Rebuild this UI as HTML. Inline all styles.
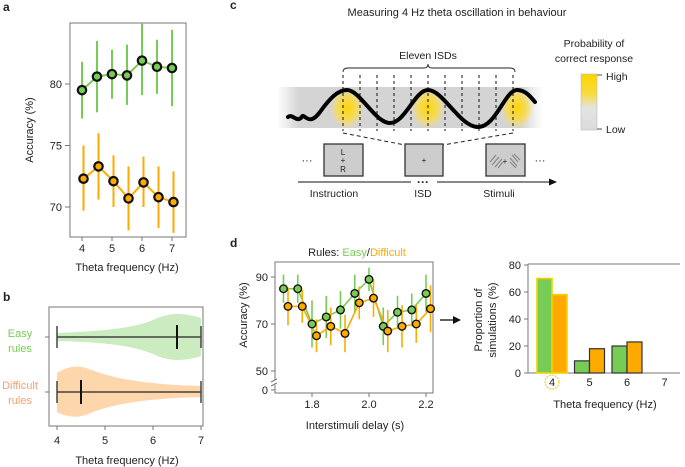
<!DOCTYPE html>
<html><head><meta charset="utf-8"><style>
body{margin:0;background:#fff;}
svg{display:block;font-family:"Liberation Sans",sans-serif;}
text{fill:#222;}
</style></head><body>
<svg id="fig" width="685" height="467" viewBox="0 0 685 467">
<defs>
<linearGradient id="cbar" x1="0" y1="0" x2="0" y2="1">
<stop offset="0" stop-color="#ffd400"/><stop offset="0.35" stop-color="#f7dc3a"/><stop offset="0.6" stop-color="#e3e3e0"/><stop offset="1" stop-color="#dcdcdc"/></linearGradient>
<linearGradient id="band" x1="0" y1="0" x2="1" y2="0">
<stop offset="0" stop-color="#d8d8d8" stop-opacity="0"/><stop offset="0.08" stop-color="#d4d4d4"/><stop offset="0.92" stop-color="#d4d4d4"/><stop offset="1" stop-color="#d8d8d8" stop-opacity="0"/></linearGradient>
<radialGradient id="glow" cx="0.5" cy="0.5" r="0.5"><stop offset="0" stop-color="#ffd400"/><stop offset="0.6" stop-color="#ffdd33" stop-opacity="0.7"/><stop offset="1" stop-color="#ffe066" stop-opacity="0"/></radialGradient>
</defs>
<text x="3" y="11" font-weight="bold" font-size="12">a</text>
<text x="3" y="301" font-weight="bold" font-size="12">b</text>
<text x="230" y="9" font-weight="bold" font-size="12">c</text>
<text x="230" y="247" font-weight="bold" font-size="12">d</text>

<g id="pa"></g>
<g id="pb"></g>

<g>
<text x="457" y="16" font-size="11" text-anchor="middle">Measuring 4 Hz theta oscillation in behaviour</text>
<rect x="277" y="87" width="266" height="41" fill="url(#band)"/>
<ellipse cx="347" cy="108" rx="17" ry="21" fill="url(#glow)"/>
<ellipse cx="428" cy="108" rx="17" ry="21" fill="url(#glow)"/>
<ellipse cx="517" cy="108" rx="17" ry="21" fill="url(#glow)"/>
<path d="M288,117 C292,114 295,120 299,119 C303,118 301,114 305,117 C310,121 314,120 320,112 C330,98 338,90 347,90 C360,90 375,123 390,123 C405,123 415,90 428,90 C443,90 460,127 478,127 C496,127 505,90 517,90 C525,90 530,96 535,102" fill="none" stroke="#000" stroke-width="4" stroke-linecap="round"/>
<g id="dashes" stroke="#111" stroke-width="1" stroke-dasharray="3,3"></g>
<path d="M343,72 q0,-4 5,-4 L424,68 q4,0 4,-4 q0,4 4,4 L510,68 q5,0 5,4" fill="none" stroke="#222" stroke-width="0.9"/>
<text x="428" y="59" font-size="10.5" text-anchor="middle">Eleven ISDs</text>
<path d="M343,133 L405,145 M513,133 L443,145" stroke="#222" stroke-dasharray="4,3" fill="none"/>
<rect x="324" y="144" width="39" height="32" fill="#cdcdcd" stroke="#333" stroke-width="1.3"/>
<text x="343" y="155" font-size="8" text-anchor="middle">L</text>
<text x="343" y="163" font-size="8" text-anchor="middle">+</text>
<text x="343" y="172" font-size="8" text-anchor="middle">R</text>
<rect x="405" y="144" width="38" height="32" fill="#cdcdcd" stroke="#333" stroke-width="1.3"/>
<text x="424" y="163" font-size="8" text-anchor="middle">+</text>
<rect x="486" y="144" width="39" height="32" fill="#cdcdcd" stroke="#333" stroke-width="1.3"/>
<g stroke="#888" stroke-width="1.2">
<path d="M490,162 l6,-7 M492,165 l7,-8 M495,167 l7,-8 M498,168 l5,-6"/>
<path d="M512,155 l6,7 M510,158 l7,8 M510,162 l6,6 M514,154 l6,6"/>
</g>
<text x="505" y="164" font-size="8" text-anchor="middle">+</text>
<text x="307" y="164" font-size="11" text-anchor="middle">···</text>
<text x="540" y="164" font-size="11" text-anchor="middle">···</text>
<path d="M298,182 L552,182" stroke="#111" stroke-width="1"/>
<path d="M557,182 L549,178.5 L549,185.5 Z" fill="#111"/>
<rect x="411" y="178" width="26" height="8" fill="#fff"/>
<text x="423" y="186" font-size="12" text-anchor="middle" font-weight="bold">···</text>
<text x="334" y="197" font-size="10.5" text-anchor="middle">Instruction</text>
<text x="423" y="197" font-size="10.5" text-anchor="middle">ISD</text>
<text x="499" y="197" font-size="10.5" text-anchor="middle">Stimuli</text>
<text x="594" y="47" font-size="10.5" text-anchor="middle">Probability of</text>
<text x="594" y="62" font-size="10.5" text-anchor="middle">correct response</text>
<rect x="581" y="74" width="16" height="56" fill="url(#cbar)" stroke="#bbb" stroke-width="0.6"/>
<path d="M597,75 h5 M597,129 h5" stroke="#555"/>
<text x="606" y="80" font-size="10.5">High</text>
<text x="606" y="133" font-size="10.5">Low</text>
</g>

<g id="pd"></g>
<path d="M440,320 L456,320" stroke="#111" stroke-width="1.3"/>
<path d="M461,320 L453,316 L453,324 Z" fill="#111"/>
<g id="pe"></g>
</svg>
<script>
const NS="http://www.w3.org/2000/svg";
function mk(p,tag,at,txt){const e=document.createElementNS(NS,tag);for(const k in at)e.setAttribute(k,at[k]);if(txt!==undefined)e.textContent=txt;p.appendChild(e);return e;}
const GREEN="#77cc55",ORANGE="#ffaa00";

const aFreq=[4,4.5,5,5.5,6,6.5,7];
const aEasy=[79.5,80.6,80.8,80.7,81.9,81.4,81.3];
const aEasyLo=[77.2,77.7,78.8,78.3,79.1,79.2,78.2];
const aEasyHi=[81.8,83.5,82.8,83.2,84.9,83.6,84.4];
const aDiff=[72.3,73.3,72.1,70.7,72.0,70.8,70.4];
const aDiffLo=[69.7,70.6,70.0,68.1,70.0,68.3,67.9];
const aDiffHi=[75.0,76.0,74.2,73.3,74.1,73.3,72.9];
const aYTicks=[70,75,80];
const aXTicks=[4,5,6,7];

const dIsd=[1.70,1.75,1.80,1.85,1.90,1.95,2.00,2.05,2.10,2.15,2.20];
const dEasy=[85,85,70,73,76,83,89,69,75,76,83];
const dEasyErr=[6,6,10,9,8,8,5,8,7,7,8];
const dDiff=[77.5,77.5,65,69,66,79,81,67,69,70,76.5];
const dDiffErr=[8,7,7,8,8,7,8,9,9,8,10];
const dYTicks=[50,70,90];
const dXTicks=[1.8,2.0,2.2];

const eCats=[4,5,6,7];
const eEasy=[70,9,20,0];
const eDiff=[58,18,23,0];
const eYTicks=[0,20,40,60,80];

const bXTicks=[4,5,6,7];
const bEasyMode=6.5, bDiffMode=4.5;

(function(){
 const g=document.getElementById('pa');
 const x=v=>82+(v-4)*30, y=v=>207-(v-70)*12.3;
 const f=mk(g,'rect',{x:70,y:23,width:116,height:214,fill:'none',stroke:'#777','stroke-width':1});
 
 aYTicks.forEach(t=>{mk(g,'line',{x1:65,x2:70,y1:y(t),y2:y(t),stroke:'#777'});
  const l=mk(g,'text',{x:62,y:y(t)+4,'font-size':11,'text-anchor':'end'},t);});
 aXTicks.forEach(t=>{mk(g,'line',{x1:x(t),x2:x(t),y1:237,y2:241,stroke:'#777'});
  const l=mk(g,'text',{x:x(t),y:252,'font-size':11,'text-anchor':'middle'},t);});
 const yt=mk(g,'text',{x:0,y:0,'font-size':11,'text-anchor':'middle',transform:'translate(33,130) rotate(-90)'},'Accuracy (%)');
 
 const xt=mk(g,'text',{x:127,y:271,'font-size':11,'text-anchor':'middle'},'Theta frequency (Hz)');
 
 [[aEasy,aEasyLo,aEasyHi,GREEN,0,'easy'],[aDiff,aDiffLo,aDiffHi,ORANGE,1.5,'difficult']].forEach(([v,lo,hi,c,off,nm])=>{
  const line=mk(g,'polyline',{points:aFreq.map((f,i)=>(x(f)+off)+','+y(v[i])).join(' '),fill:'none',stroke:c,'stroke-width':2});
  
  aFreq.forEach((f,i)=>{
   const eb=mk(g,'line',{x1:x(f)+off,x2:x(f)+off,y1:y(lo[i]),y2:y(hi[i]),stroke:c,'stroke-width':2});
   });
  aFreq.forEach((f,i)=>{
   const p=mk(g,'circle',{cx:x(f)+off,cy:y(v[i]),r:4.2,fill:c,stroke:'#111','stroke-width':2.2});
   });
 });
})();

(function(){
 const g=document.getElementById('pb');
 const x=v=>57+(v-4)*48;
 const f=mk(g,'rect',{x:49,y:307,width:154,height:119,fill:'none',stroke:'#777'});
 
 const ve=mk(g,'path',{d:`M${x(4)},333 C${x(5)},331 ${x(5.6)},328 ${x(6)},320 C${x(6.3)},313 ${x(6.6)},312 ${x(7)},318 L${x(7)},356 C${x(6.6)},362 ${x(6.3)},361 ${x(6)},354 C${x(5.6)},346 ${x(5)},342 ${x(4)},341 Z`,fill:'#cbebc0'});
 
 const vd=mk(g,'path',{d:`M${x(4)},373 C${x(4.2)},367 ${x(4.4)},365 ${x(4.6)},368 C${x(5)},375 ${x(5.5)},384 ${x(7)},386 L${x(7)},397 C${x(5.5)},399 ${x(5)},407 ${x(4.6)},415 C${x(4.4)},418 ${x(4.2)},417 ${x(4)},412 Z`,fill:'#fdd6ab'});
 
 [[337,bEasyMode,'easy'],[392,bDiffMode,'difficult']].forEach(([yy,m,nm])=>{
  mk(g,'line',{x1:x(4),x2:x(7),y1:yy,y2:yy,stroke:'#222','stroke-width':1.3});
  [4,7].forEach(t=>mk(g,'line',{x1:x(t),x2:x(t),y1:yy-11,y2:yy+11,stroke:'#444','stroke-width':1.5}));
  const md=mk(g,'line',{x1:x(m),x2:x(m),y1:yy-12,y2:yy+12,stroke:'#111','stroke-width':2});
  
  mk(g,'line',{x1:45,x2:49,y1:yy,y2:yy,stroke:'#777'});
 });
 bXTicks.forEach(t=>{mk(g,'line',{x1:x(t),x2:x(t),y1:426,y2:430,stroke:'#777'});
  const l=mk(g,'text',{x:x(t),y:444,'font-size':11,'text-anchor':'middle'},t);});
 const xt=mk(g,'text',{x:127,y:464,'font-size':11,'text-anchor':'middle'},'Theta frequency (Hz)');
 
 [['Easy',337,GREEN,20],['rules',352,GREEN,20],['Difficult',389,'#f8a070',20],['rules',404,'#f8a070',20]].forEach(([t,yy,c,cx])=>{
  const l=mk(g,'text',{x:cx,y:yy,'font-size':11,'text-anchor':'middle'},t);l.style.fill=c;
  });
})();

(function(){
 const g=document.getElementById('dashes');
 for(let i=0;i<11;i++){const xx=343+i*17;
  const l=mk(g,'line',{x1:xx,x2:xx,y1:75,y2:131});
  }
})();

(function(){
 const g=document.getElementById('pd');
 const x=v=>312+(v-1.8)*285, y=v=>277+(90-v)*2.35;
 const f=mk(g,'rect',{x:275,y:262,width:158,height:131,fill:'none',stroke:'#777'});
 
 dYTicks.forEach(t=>{mk(g,'line',{x1:271,x2:275,y1:y(t),y2:y(t),stroke:'#777'});
  const l=mk(g,'text',{x:268,y:y(t)+4,'font-size':11,'text-anchor':'end'},t);});
 mk(g,'line',{x1:271,x2:275,y1:390,y2:390,stroke:'#777'});
 mk(g,'text',{x:268,y:394,'font-size':11,'text-anchor':'end'},'0');
 mk(g,'rect',{x:272,y:380,width:6,height:5,fill:'#fff'});
 mk(g,'path',{d:'M271,382 l6,-3 M271,386 l6,-3',stroke:'#777',fill:'none'});
 dXTicks.forEach(t=>{mk(g,'line',{x1:x(t),x2:x(t),y1:393,y2:397,stroke:'#777'});
  const l=mk(g,'text',{x:x(t),y:408,'font-size':11,'text-anchor':'middle'},t.toFixed(1));});
 const xt=mk(g,'text',{x:355,y:429,'font-size':11,'text-anchor':'middle'},'Interstimuli delay (s)');
 
 const yt=mk(g,'text',{x:0,y:0,'font-size':11,'text-anchor':'middle',transform:'translate(247,315) rotate(-90)'},'Accuracy (%)');
 
 const tt=mk(g,'text',{x:357,y:256,'font-size':11,'text-anchor':'middle'});
 
 mk(tt,'tspan',{},'Rules: ');const t1=mk(tt,'tspan',{},'Easy');t1.style.fill=GREEN;mk(tt,'tspan',{},'/');const t2=mk(tt,'tspan',{},'Difficult');t2.style.fill=ORANGE;
 [[dEasy,dEasyErr,GREEN,0,'easy'],[dDiff,dDiffErr,ORANGE,4.5,'difficult']].forEach(([v,e,c,off,nm])=>{
  const line=mk(g,'polyline',{points:dIsd.map((d,i)=>(x(d)+off)+','+y(v[i])).join(' '),fill:'none',stroke:c,'stroke-width':1.6});
  
  dIsd.forEach((d,i)=>{const eb=mk(g,'line',{x1:x(d)+off,x2:x(d)+off,y1:y(v[i]-e[i]),y2:y(v[i]+e[i]),stroke:c,'stroke-width':1.6});
   });
 });
 [[dEasy,GREEN,0,'easy'],[dDiff,ORANGE,4.5,'difficult']].forEach(([v,c,off,nm])=>{
  dIsd.forEach((d,i)=>{const p=mk(g,'circle',{cx:x(d)+off,cy:y(v[i]),r:3.8,fill:c,stroke:'#111','stroke-width':1.4});
   });
 });
})();

(function(){
 const g=document.getElementById('pe');
 const x=c=>552+(c-4)*37.5, y=v=>373-v*1.35, bw=15;
 mk(g,'path',{d:'M528,264 L680,264 M528,264 L528,373 L680,373',fill:'none',stroke:'#777'});
 eYTicks.forEach(t=>{mk(g,'line',{x1:524,x2:528,y1:y(t),y2:y(t),stroke:'#777'});
  const l=mk(g,'text',{x:521,y:y(t)+4,'font-size':11,'text-anchor':'end'},t);});
 eCats.forEach((c,i)=>{
  const hl=i===0;
  [[eEasy[i],GREEN,-bw,'easy'],[eDiff[i],ORANGE,0,'difficult']].forEach(([v,col,off,nm])=>{
   if(v<=0)return;
   const b=mk(g,'rect',{x:x(c)+off,y:y(v),width:bw,height:y(0)-y(v),fill:col,stroke:hl?'#f5d000':'#333','stroke-width':hl?1.6:1.2});
   });
  const l=mk(g,'text',{x:x(c),y:386,'font-size':11,'text-anchor':'middle'},c);
 });
 const hc=mk(g,'circle',{cx:x(4),cy:382,r:7,fill:'none',stroke:'#f5c800','stroke-width':1.3,'stroke-dasharray':'1.5,1.5'});
 
 const xt=mk(g,'text',{x:605,y:408,'font-size':11,'text-anchor':'middle'},'Theta frequency (Hz)');
 
 const y1=mk(g,'text',{x:0,y:0,'font-size':11,'text-anchor':'middle',transform:'translate(482,320) rotate(-90)'},'Proportion of');
 
 const y2=mk(g,'text',{x:0,y:0,'font-size':11,'text-anchor':'middle',transform:'translate(496,320) rotate(-90)'},'simulations (%)');
 
})();
</script>
</body></html>
